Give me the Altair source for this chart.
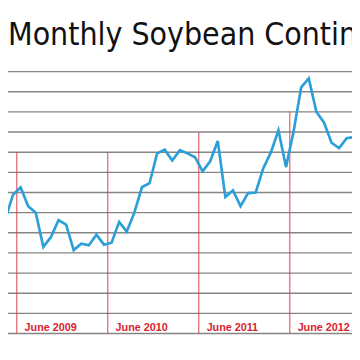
import altair as alt
import pandas as pd

# Monthly soybean continuous contract ($/bu), Mar 2009 .. Feb 2013
months = [
    "2009-03", "2009-04", "2009-05", "2009-06", "2009-07", "2009-08", "2009-09", "2009-10", "2009-11", "2009-12",
    "2010-01", "2010-02", "2010-03", "2010-04", "2010-05", "2010-06", "2010-07", "2010-08", "2010-09", "2010-10", "2010-11", "2010-12",
    "2011-01", "2011-02", "2011-03", "2011-04", "2011-05", "2011-06", "2011-07", "2011-08", "2011-09", "2011-10", "2011-11", "2011-12",
    "2012-01", "2012-02", "2012-03", "2012-04", "2012-05", "2012-06", "2012-07", "2012-08", "2012-09", "2012-10", "2012-11", "2012-12",
    "2013-01", "2013-02",
]
prices = [
    9.53, 10.70, 11.89, 12.26, 11.32, 11.00, 9.30, 9.79, 10.63, 10.40,
    9.14, 9.46, 9.38, 9.90, 9.41, 9.51, 10.54, 10.06, 11.00, 12.26, 12.46, 13.94,
    14.12, 13.59, 14.10, 13.94, 13.75, 13.05, 13.55, 14.56, 11.78, 12.10, 11.32, 11.97,
    12.00, 13.20, 13.99, 15.09, 13.26, 15.04, 17.22, 17.66, 16.01, 15.48, 14.47, 14.20,
    14.69, 14.75,
]

grid_levels = [5, 6, 7, 8, 9, 10, 11, 12, 13, 14, 15, 16, 17, 18]
marker_labels = ["June 2009", "June 2010", "June 2011", "June 2012"]
marker_month_index = [0, 12, 24, 36]   # months after June 2009
marker_tops = [14, 14, 15, 16]
marker_bottom = 5
title_text = "Monthly Soybean Continuous Contract"

# month index relative to June 2009, points at mid-month
def month_index(s):
    y, m = s.split("-")
    return (int(y) - 2009) * 12 + (int(m) - 6)

price_df = pd.DataFrame({
    "month": months,
    "t": [month_index(m) + 0.5 for m in months],
    "price": prices,
})
grid_df = pd.DataFrame({"level": grid_levels})
marker_df = pd.DataFrame({
    "label": marker_labels,
    "t": marker_month_index,
    "top": marker_tops,
    "bottom": [marker_bottom] * len(marker_labels),
})
title_df = pd.DataFrame({"title": [title_text]})

x_scale = alt.Scale(domain=[-1.16, 44.2], nice=False, zero=False)
y_scale = alt.Scale(domain=[3.884, 20.959], nice=False, zero=False)

grid = alt.Chart(grid_df).mark_rule(color="#858585", strokeWidth=1.4).encode(
    y=alt.Y("level:Q", scale=y_scale, axis=None)
)

markers = alt.Chart(marker_df).mark_rule(color="#d9414a", strokeWidth=1).encode(
    x=alt.X("t:Q", scale=x_scale, axis=None),
    y=alt.Y("top:Q", scale=y_scale, axis=None),
    y2="bottom:Q",
)

labels = alt.Chart(marker_df).mark_text(
    align="left", baseline="alphabetic", dx=8, color="#d8232f",
    font="Liberation Sans", fontSize=11, fontWeight="bold", clip=True,
).encode(
    x=alt.X("t:Q", scale=x_scale, axis=None),
    y=alt.value(326),
    text="label:N",
)

line = alt.Chart(price_df).mark_line(color="#2a9fd8", strokeWidth=2.7, clip=True).encode(
    x=alt.X("t:Q", scale=x_scale, axis=None),
    y=alt.Y("price:Q", scale=y_scale, axis=None),
)

title = alt.Chart(title_df).mark_text(
    align="left", baseline="alphabetic", color="#111111",
    font="DejaVu Sans Condensed, sans-serif", fontSize=32.5, clip=True,
).encode(
    x=alt.value(0),
    y=alt.value(34),
    text="title:N",
)

chart = alt.layer(grid, markers, labels, line, title).properties(
    width=352, height=352, padding=0, background="white",
    autosize=alt.AutoSizeParams(type="none"),
).configure_view(stroke=None)

chart.save("out.html", embed_options={"renderer": "svg", "actions": False})
